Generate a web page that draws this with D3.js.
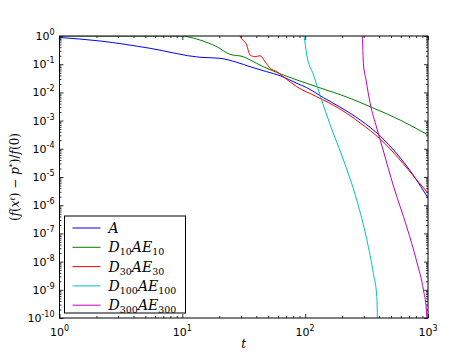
<!DOCTYPE html>
<html><head><meta charset="utf-8">
<script src="https://cdn.jsdelivr.net/npm/d3@7"></script>
<style>body{margin:0;background:#fff}</style></head><body>
<svg id="c" width="474" height="355" xmlns="http://www.w3.org/2000/svg"></svg>
<script>
// ---- data ----
const xDecades = [1, 10, 100, 1000];
const yDecades = [0, -1, -2, -3, -4, -5, -6, -7, -8, -9, -10];

const tA = [1, 2.14, 5.46, 13.9, 20.2, 27.7, 35.6, 48.6, 62.5, 85.5, 103, 141, 192, 281, 408, 560, 757, 1000];
const vA = [0.885, 0.665, 0.366, 0.176, 0.162, 0.117, 0.0815, 0.0542, 0.0391, 0.021, 0.0147, 0.00649, 0.00303, 0.00105, 2.84e-4, 6.55e-5, 1.18e-5, 1.8e-6];

const tD10 = [1, 10, 10.9, 13.9, 19.1, 24.4, 31.4, 35.6, 45.7, 66.4, 124, 232, 338, 593, 1000];
const vD10 = [1, 1, 0.95, 0.721, 0.418, 0.224, 0.184, 0.141, 0.0815, 0.0414, 0.0159, 0.00618, 0.00311, 0.00105, 3.08e-4];

const tD30 = [28.5, 29.5, 33.4, 35.6, 39.1, 42.9, 47.2, 51.8, 58.7, 66.4, 85.5, 124, 192, 281, 408, 593, 811, 1000];
const vD30 = [1.5, 1.0, 0.48, 0.212, 0.184, 0.2, 0.123, 0.0716, 0.0542, 0.036, 0.0159, 0.00704, 0.00258, 8.2e-4, 2.23e-4, 4.0e-5, 7.8e-6, 2.7e-6];

const tD100 = [94.3, 98, 103, 117, 132, 160, 205, 263, 318, 359, 383, 387, 388];
const vD100 = [1.92, 0.945, 0.212, 0.0414, 0.00809, 6.98e-4, 4.0e-5, 1.53e-6, 5.83e-8, 3.85e-9, 5.7e-10, 1e-10, 1e-11];

const tD300 = [288, 292, 298, 313, 338, 383, 431, 523, 672, 811, 918, 970, 997];
const vD300 = [1.9, 0.945, 0.108, 0.0275, 0.00414, 5.42e-4, 9.06e-5, 4.8e-6, 1.69e-7, 9.7e-9, 9.8e-10, 1.9e-10, 1e-11];

const seriesNames = [["A"], ["D", "10", "AE", "10"], ["D", "30", "AE", "30"], ["D", "100", "AE", "100"], ["D", "300", "AE", "300"]];
const seriesColors = ["#0000ff", "#008000", "#ff0000", "#00bfbf", "#bf00bf"];
const seriesT = [tA, tD10, tD30, tD100, tD300];
const seriesV = [vA, vD10, vD30, vD100, vD300];

// ---- layout ----
const L = 59.5, R = 428, T = 36, B = 318;
const svg = d3.select("#c");
const x = d3.scaleLog().domain([1, 1000]).range([L, R]);
const y = d3.scaleLog().domain([1e-10, 1]).range([B, T]);
const font = "'DejaVu Sans', sans-serif";
const mfont = "'DejaVu Serif', serif";

svg.append("defs").append("clipPath").attr("id", "clip")
  .append("rect").attr("x", L).attr("y", T).attr("width", R - L).attr("height", B - T);

// minor tick values
const xMinor = [];
for (let d = 1; d < 1000; d *= 10) for (let k = 2; k <= 9; k++) xMinor.push(d * k);
const yMinor = [];
for (let e = -10; e < 0; e++) for (let k = 2; k <= 9; k++) yMinor.push(k * Math.pow(10, e));
const yMajor = yDecades.map(e => Math.pow(10, e));

function styleAxis(g) {
  g.select(".domain").remove();
  g.selectAll("line").attr("stroke", "#000").attr("stroke-width", 0.8);
}
svg.append("g").attr("transform", `translate(0,${B})`)
  .call(d3.axisBottom(x).tickValues(xDecades).tickSize(-4).tickFormat("")).call(styleAxis);
svg.append("g").attr("transform", `translate(0,${B})`)
  .call(d3.axisBottom(x).tickValues(xMinor).tickSize(-2).tickFormat("")).call(styleAxis);
svg.append("g").attr("transform", `translate(0,${T})`)
  .call(d3.axisTop(x).tickValues(xDecades).tickSize(-4).tickFormat("")).call(styleAxis);
svg.append("g").attr("transform", `translate(0,${T})`)
  .call(d3.axisTop(x).tickValues(xMinor).tickSize(-2).tickFormat("")).call(styleAxis);
svg.append("g").attr("transform", `translate(${L},0)`)
  .call(d3.axisLeft(y).tickValues(yMajor).tickSize(-4).tickFormat("")).call(styleAxis);
svg.append("g").attr("transform", `translate(${L},0)`)
  .call(d3.axisLeft(y).tickValues(yMinor).tickSize(-2).tickFormat("")).call(styleAxis);
svg.append("g").attr("transform", `translate(${R},0)`)
  .call(d3.axisRight(y).tickValues(yMajor).tickSize(-4).tickFormat("")).call(styleAxis);
svg.append("g").attr("transform", `translate(${R},0)`)
  .call(d3.axisRight(y).tickValues(yMinor).tickSize(-2).tickFormat("")).call(styleAxis);

// tick labels
xDecades.forEach(v => {
  const t = svg.append("text").attr("x", x(v)).attr("y", B + 18)
    .attr("text-anchor", "middle").attr("font-family", font).attr("font-size", 11).attr("fill", "#000");
  t.append("tspan").text("10");
  t.append("tspan").attr("dy", -5).attr("font-size", 8).text(String(Math.round(Math.log10(v))));
});
yDecades.forEach(e => {
  const t = svg.append("text").attr("x", L - 5).attr("y", y(Math.pow(10, e)) + 4)
    .attr("text-anchor", "end").attr("font-family", font).attr("font-size", 11).attr("fill", "#000");
  t.append("tspan").text("10");
  t.append("tspan").attr("dy", -5).attr("font-size", 8).text(e === 0 ? "0" : "-" + (-e));
});

// lines
const line = d3.line().x(d => x(d[0])).y(d => y(d[1])).curve(d3.curveMonotoneX);
const plot = svg.append("g").attr("clip-path", "url(#clip)");
seriesT.forEach((ts, i) => {
  const pts = ts.map((t, j) => [t, seriesV[i][j]]);
  plot.append("path").datum(pts).attr("d", line)
    .attr("fill", "none").attr("stroke", seriesColors[i]).attr("stroke-width", 1);
});

// frame
svg.append("rect").attr("x", L).attr("y", T).attr("width", R - L).attr("height", B - T)
  .attr("fill", "none").attr("stroke", "#000").attr("stroke-width", 1);

// axis labels
svg.append("text").attr("x", (L + R) / 2).attr("y", B + 30)
  .attr("text-anchor", "middle").attr("font-family", mfont).attr("font-size", 12)
  .attr("font-style", "italic").text("t");
const yl = svg.append("text").attr("transform", `translate(19,${(T + B) / 2}) rotate(-90)`)
  .attr("text-anchor", "middle").attr("font-family", mfont).attr("font-size", 12);
yl.append("tspan").text("(");
yl.append("tspan").attr("font-style", "italic").text("f");
yl.append("tspan").text("(");
yl.append("tspan").attr("font-style", "italic").text("x");
yl.append("tspan").attr("dy", -4).attr("font-size", 8).attr("font-style", "italic").text("t");
yl.append("tspan").attr("dy", 4).text(") \u2212 ");
yl.append("tspan").attr("font-style", "italic").text("p");
yl.append("tspan").attr("dy", -4).attr("font-size", 8).text("*");
yl.append("tspan").attr("dy", 4).text(")/");
yl.append("tspan").attr("font-style", "italic").text("f");
yl.append("tspan").text("(0)");

// legend
const lgX = 64.5, lgY = 216, lgW = 121, lgH = 97, rowH = 19.3;
svg.append("rect").attr("x", lgX).attr("y", lgY).attr("width", lgW).attr("height", lgH)
  .attr("fill", "#fff").attr("stroke", "#000").attr("stroke-width", 1);
seriesNames.forEach((nm, i) => {
  const cy = lgY + 12 + i * rowH;
  svg.append("line").attr("x1", lgX + 8).attr("x2", lgX + 36).attr("y1", cy).attr("y2", cy)
    .attr("stroke", seriesColors[i]).attr("stroke-width", 1);
  const t = svg.append("text").attr("x", lgX + 44).attr("y", cy + 5)
    .attr("font-family", mfont).attr("font-size", 14).attr("fill", "#000");
  t.append("tspan").attr("font-style", "italic").text(nm[0]);
  if (nm.length > 1) {
    t.append("tspan").attr("dy", 3).attr("font-size", 9.5).text(nm[1]);
    t.append("tspan").attr("dy", -3).attr("font-style", "italic").text(nm[2]);
    t.append("tspan").attr("dy", 3).attr("font-size", 9.5).text(nm[3]);
  }
});
</script>
</body></html>
